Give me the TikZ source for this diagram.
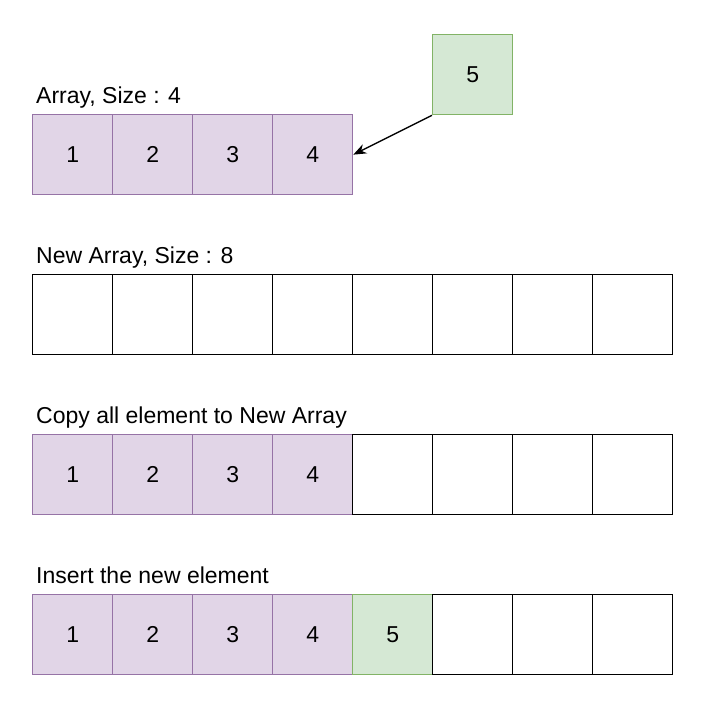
\documentclass[tikz,border=0pt]{standalone}
\usepackage{fontspec}
\setmainfont{Liberation Sans}
\usetikzlibrary{arrows.meta}
\definecolor{pf}{HTML}{E1D5E7}\definecolor{ps}{HTML}{9673A6}
\definecolor{gf}{HTML}{D5E8D4}\definecolor{gs}{HTML}{82B366}
\begin{document}
\begin{tikzpicture}[x=1pt,y=-1pt,
  cell/.style={draw=black,fill=white,line width=1.3pt,minimum size=80pt,inner sep=0,anchor=north west,font=\fontsize{23}{26}\selectfont},
  pc/.style={cell,draw=ps,fill=pf},
  gc/.style={cell,draw=gs,fill=gf},
  lab/.style={anchor=base west,inner sep=0,font=\fontsize{23}{26}\selectfont}]
\useasboundingbox (0,0) rectangle (708,710);
\node[gc] (n5) at (432,34) {5};
\node[lab] (l1) at (36,103) {Array, Size : 4};
\node[lab] (l2) at (36,263) {New Array, Size : 8};
\node[lab] (l3) at (36,423) {Copy all element to New Array};
\node[lab] (l4) at (36,583) {Insert the new element};
\foreach \i in {1,...,4}{\node[pc] (a\i) at ({32+80*(\i-1)},114) {\i};}
\foreach \i in {1,...,8}{\node[cell] (b\i) at ({32+80*(\i-1)},274) {};}
\foreach \i in {1,...,4}{\node[pc] (c\i) at ({32+80*(\i-1)},434) {\i};}
\foreach \i in {5,...,8}{\node[cell] (c\i) at ({32+80*(\i-1)},434) {};}
\foreach \i in {1,...,4}{\node[pc] (d\i) at ({32+80*(\i-1)},594) {\i};}
\node[gc] (d5) at (352,594) {5};
\foreach \i in {6,...,8}{\node[cell] (d\i) at ({32+80*(\i-1)},594) {};}
\draw[line width=1.3pt,-{Stealth[length=13pt,width=10pt]}] (n5.south west) -- (a4.east);
\end{tikzpicture}
\end{document}
